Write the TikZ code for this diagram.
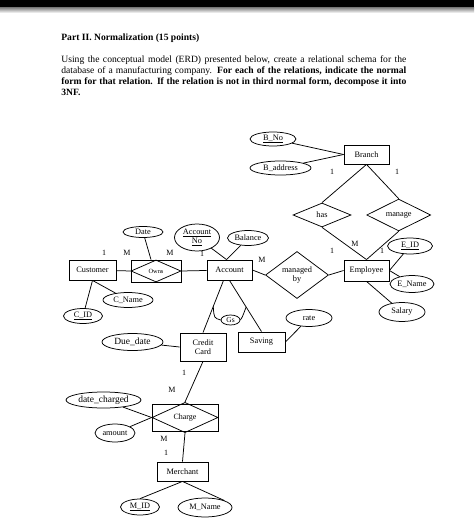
\documentclass[tikz,border=0pt]{standalone}
\usepackage{fontspec}
\setmainfont{Liberation Serif}
\usetikzlibrary{shapes.geometric}

\begin{document}
\begin{tikzpicture}[x=1pt,y=-1pt,line width=0.75pt,
  every node/.style={font=\fontsize{8.3}{9.5}\selectfont, inner sep=0pt},
  entity/.style={draw, rectangle, line width=0.85pt},
  attr/.style={draw, ellipse},
  relship/.style={draw, diamond},
  cardlbl/.style={font=\fontsize{8}{9}\selectfont},
  para/.style={anchor=base west, font=\fontsize{9.6}{11}\selectfont}]
\useasboundingbox (0,0) rectangle (474,526);
\fill[white] (0,0) rectangle (474,526);
\fill[black] (0,0) rectangle (474,8);
\shade[top color=black!45, bottom color=white] (0,8) rectangle (474,13);

% heading
\node[para, font=\fontsize{9.6}{11}\selectfont\bfseries] (title) at (61,40.5) {Part II. Normalization (15 points)};
\node[para] (txta) at (61,62.5) {\makebox[345pt][s]{Using the conceptual model (ERD) presented below, create a relational schema for the}};
\node[para] (txtb) at (61,73.5) {\makebox[345pt][s]{database of a manufacturing company. \textbf{For each of the relations, indicate the normal}}};
\node[para] (txtc) at (61,84.5) {\makebox[345pt][s]{\textbf{form for that relation. If the relation is not in third normal form, decompose it into}}};
\node[para] (txtd) at (61,95.5) {\textbf{3NF.}};

% entities
\node[entity, minimum width=45pt, minimum height=19pt] (branch) at (366.5,154.5) {Branch};
\node[entity, minimum width=47pt, minimum height=20pt] (customer) at (92.5,270) {Customer};
\node[entity, minimum width=45pt, minimum height=20pt] (account) at (229.5,270) {Account};
\node[entity, minimum width=45pt, minimum height=21pt] (employee) at (366.5,270.5) {Employee};
\node[entity, minimum width=46pt, minimum height=28pt, align=center] (credit) at (203,347) {Credit\\Card};
\node[entity, minimum width=47pt, minimum height=20pt] (saving) at (261.5,342) {Saving};
\node[entity, minimum width=51pt, minimum height=19pt] (merchant) at (182.5,471.5) {Merchant};

% associative entities
\node[entity, minimum width=50pt, minimum height=22pt] (ownsbox) at (156,271) {};
\node[relship, minimum width=50pt, minimum height=22pt, font=\fontsize{6.4}{7}\selectfont] (owns) at (156,271) {Owns};
\node[entity, minimum width=66pt, minimum height=27pt] (chargebox) at (185,417.5) {};
\node[relship, minimum width=66pt, minimum height=27pt, font=\fontsize{8}{9}\selectfont] (charge) at (185,417.5) {Charge};

% relationships
\node[relship, minimum width=58pt, minimum height=24pt] (has) at (322,215) {has};
\node[relship, minimum width=64pt, minimum height=24pt] (manage) at (398.7,215) {manage};
\node[relship, minimum width=63pt, minimum height=44pt, align=center] (manby) at (297,275) {managed\\by};

% attributes
\node[attr, minimum width=46pt, minimum height=14pt] (bno) at (273,139) {\underline{B\_No}};
\node[attr, minimum width=61pt, minimum height=14pt] (baddr) at (280.5,168) {B\_address};
\node[attr, minimum width=40pt, minimum height=11pt] (date) at (143,232) {Date};
\node[attr, minimum width=45pt, minimum height=27pt, align=center] (accno) at (197,237.5) {\underline{Account}\\\underline{No}};
\node[attr, minimum width=41pt, minimum height=15pt] (balance) at (248,238) {Balance};
\node[attr, minimum width=50pt, minimum height=15pt] (cname) at (128,300) {C\_Name};
\node[attr, minimum width=39pt, minimum height=15pt] (cid) at (83,316) {\underline{C\_ID}};
\node[attr, minimum width=45pt, minimum height=16pt] (eid) at (410,246) {\underline{E\_ID}};
\node[attr, minimum width=44pt, minimum height=17pt] (ename) at (412,284) {E\_Name};
\node[attr, minimum width=46pt, minimum height=19pt] (salary) at (402,312) {Salary};
\node[attr, minimum width=46pt, minimum height=17pt] (rate) at (309,318) {rate};
\node[attr, minimum width=19pt, minimum height=10pt, font=\fontsize{7.5}{8}\selectfont] (gs) at (230.5,320) {Gs};
\node[attr, minimum width=61pt, minimum height=17pt, font=\fontsize{9.5}{10}\selectfont] (duedate) at (132.5,342) {Due\_date};
\node[attr, minimum width=75pt, minimum height=16pt, font=\fontsize{9.5}{10}\selectfont] (datech) at (103.5,400) {date\_charged};
\node[attr, minimum width=40pt, minimum height=18pt] (amount) at (115,433) {amount};
\node[attr, minimum width=39pt, minimum height=16pt] (mid) at (140,507) {\underline{M\_ID}};
\node[attr, minimum width=54pt, minimum height=19pt] (mname) at (205,507.5) {M\_Name};

% connectors
\draw (bno) -- (branch.west);
\draw (baddr) -- (branch.west);
\draw (branch.south) -- (has.north);
\draw (branch.south) -- (manage.north);
\draw (has.south) -- (employee.north);
\draw (manage.south) -- (employee.north);
\draw (customer) -- (owns.west);
\draw (owns.east) -- (account);
\draw (date) -- ([xshift=-5pt]owns.north);
\draw (accno) -- ([xshift=-3pt]account.north);
\draw (balance) -- ([xshift=-3pt]account.north);
\draw (customer.south) -- (cid);
\draw (customer.south) -- (cname);
\draw (account.east) -- (manby.west);
\draw (manby.east) -- (employee.west);
\draw (employee.east) -- (eid);
\draw (employee.east) -- (ename);
\draw (employee.south) -- (salary);
\draw ([xshift=-6pt]account.south) -- coordinate[pos=0.5] (gsl) (credit.north);
\draw (account.south) -- coordinate[pos=0.52] (gsr) (saving.north);
\draw (gsl) .. controls (214,318) .. (gs.west);
\draw (gs.east) .. controls (242,318) .. (gsr);
\draw (duedate) -- (credit.west);
\draw (rate) -- (saving.east);
\draw (credit.south) -- (charge.north);
\draw (datech) -- (charge.west);
\draw (amount) -- (charge.west);
\draw (charge.south) -- (merchant.north);
\draw (merchant.south) -- (mid.north);
\draw (merchant.south) -- (mname.north east);

% cardinalities
\node[cardlbl] (c1) at (332,172) {1};
\node[cardlbl] (c2) at (397,172) {1};
\node[cardlbl] (c3) at (104,253) {1};
\node[cardlbl] (c4) at (127,253) {M};
\node[cardlbl] (c5) at (170,253) {M};
\node[cardlbl] (c6) at (202,254) {1};
\node[cardlbl] (c7) at (262,260) {M};
\node[cardlbl] (c8) at (332,251) {1};
\node[cardlbl] (c9) at (355,244) {M};
\node[cardlbl] (c10) at (382,251) {1};
\node[cardlbl] (c11) at (184,373) {1};
\node[cardlbl] (c12) at (172,390) {M};
\node[cardlbl] (c13) at (164,439) {M};
\node[cardlbl] (c14) at (166,453) {1};
\end{tikzpicture}
\end{document}
